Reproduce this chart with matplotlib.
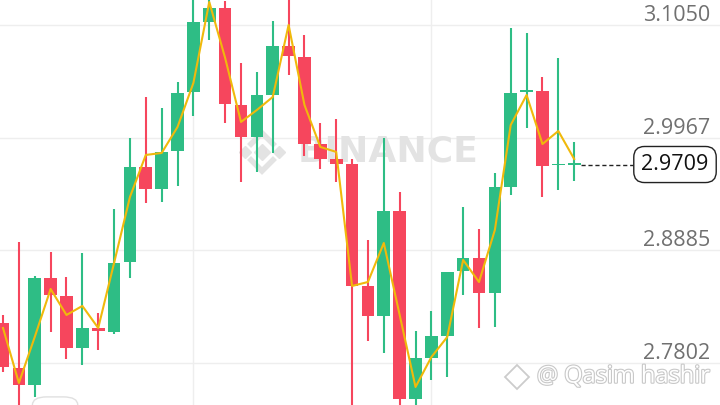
import matplotlib
matplotlib.use("Agg")
import matplotlib.pyplot as plt
import matplotlib.patheffects as pe
import matplotlib.transforms as mtransforms
from matplotlib.patches import FancyBboxPatch

# candle data (37 candles, oldest first)
opens = [2.8186, 2.7754, 2.7590, 2.8619, 2.8446, 2.7946, 2.8138, 2.8100, 2.8772, 2.9685,
         2.9474, 2.9839, 3.0406, 3.1079, 3.1213, 3.0281, 2.9974, 3.0377, 3.0848, 3.0742,
         2.9906, 2.9762, 2.9714, 2.8542, 2.8253, 2.9263, 2.7456, 2.7850, 2.8061, 2.8686,
         2.8811, 2.8475, 2.9493, 3.0406, 3.0416, 2.9700, 2.9705]
closes = [2.7763, 2.7590, 2.8619, 2.8455, 2.7946, 2.8138, 2.8109, 2.8763, 2.9685, 2.9474,
          2.9830, 3.0397, 3.1079, 3.1213, 3.0291, 2.9974, 3.0377, 3.0848, 3.0752, 2.9906,
          2.9762, 2.9714, 2.8542, 2.8253, 2.9263, 2.7456, 2.7850, 2.8061, 2.8676, 2.8811,
          2.8475, 2.9493, 3.0397, 3.0416, 2.9695, 2.9709, 2.9709]
highs = [2.8263, 2.8965, 2.8638, 2.8869, 2.8628, 2.8859, 2.8282, 2.9282, 2.9964, 3.0358,
         3.0252, 3.0502, 3.1338, 3.1386, 3.1281, 3.0685, 3.0598, 3.1088, 3.1319, 3.0954,
         3.0108, 3.0147, 2.9762, 2.8984, 2.9964, 2.9445, 2.8109, 2.8302, 2.8676, 2.9301,
         2.9090, 2.9628, 3.1021, 3.0973, 3.0550, 3.0733, 2.9926]
lows = [2.7715, 2.7331, 2.7475, 2.8100, 2.7840, 2.7783, 2.7927, 2.8081, 2.8619, 2.9339,
        2.9349, 2.9503, 3.0175, 3.0906, 3.0108, 2.9541, 2.9637, 2.9820, 3.0569, 2.9791,
        2.9666, 2.9541, 2.7331, 2.8013, 2.7898, 2.7331, 2.7350, 2.7638, 2.7667, 2.8455,
        2.8138, 2.8148, 2.9416, 3.0060, 2.9397, 2.9464, 2.9551]
# yellow moving average line
ma = [2.8138, 2.7610, 2.8052, 2.8513, 2.8263, 2.8350, 2.8138, 2.8763, 2.9397, 2.9801,
      2.9820, 3.0070, 3.0493, 3.1271, 3.0733, 3.0118, 3.0233, 3.0358, 3.1050, 3.0281,
      2.9878, 2.9830, 2.8542, 2.8580, 2.8955, 2.8263, 2.7571, 2.7859, 2.8052, 2.8792,
      2.8580, 2.9080, 3.0089, 3.0377, 2.9906, 3.0031, 2.9762]

price_levels = [3.1050, 2.9967, 2.8885, 2.7802]
price_labels = ["3.1050", "2.9967", "2.8885", "2.7802"]
last_price = 2.9709
last_label = "2.9709"

GREEN = "#2EBD85"
RED = "#F6465D"
YELLOW = "#F0B90B"
WM = "#E3E3E3"

fig = plt.figure(figsize=(7.2, 4.05), dpi=100)
ax = fig.add_axes([0, 0, 1, 1])
ax.set_xlim(-0.19, 45.19)
ax.set_ylim(2.7398, 3.1290)
ax.axis("off")

# grid
for p in price_levels:
    ax.axhline(p, color="#EEEEEE", lw=1, zorder=0)
for k in (12, 27):
    ax.axvline(k, color="#EEEEEE", lw=1, zorder=0)

# watermark
ax.text(0.539, 0.625, "BINANCE", transform=ax.transAxes, ha="center", va="center",
        fontsize=26, fontweight="bold", family="DejaVu Sans", color=WM, zorder=1)
cx, cy = 0.3639, 0.6247
px, py = 1 / 720, 1 / 405
ax.plot(cx, cy, marker="D", ms=8, color=WM, transform=ax.transAxes, zorder=1)
for dx in (-17, 17):
    ax.plot(cx + dx * px, cy, marker="D", ms=6, color=WM, transform=ax.transAxes, zorder=1)
for sgn in (1, -1):
    ax.plot([cx - 11 * px, cx, cx + 11 * px],
            [cy + sgn * 8 * py, cy + sgn * 19 * py, cy + sgn * 8 * py],
            color=WM, lw=4, solid_joinstyle="miter", transform=ax.transAxes, zorder=1)

# candles
xs = list(range(len(opens)))
for i in xs:
    o, c = opens[i], closes[i]
    col = GREEN if c >= o else RED
    ax.vlines(i, lows[i], highs[i], color=col, lw=1.5, zorder=2)
    h = max(abs(c - o), 0.0016)
    ax.bar(i, h, bottom=min(o, c), width=0.8, color=col, zorder=3)

ax.plot(xs, ma, color=YELLOW, lw=1.5, zorder=4)

# right price labels
trans = mtransforms.blended_transform_factory(ax.transAxes, ax.transData)
for p, lab in zip(price_levels, price_labels):
    ax.annotate(lab, (0.986, p), xycoords=trans, xytext=(0, 3), textcoords="offset points",
                ha="right", va="baseline", fontsize=15.5, family="Open Sans", color="#707070")

# last price line and tag
ax.plot([36.4, 39.7], [last_price, last_price], color="#222222", lw=1, ls=(0, (3, 2)), zorder=4)
ax.text(0.9375, last_price, last_label, transform=trans, ha="center", va="center",
        fontsize=15.5, family="Open Sans", color="#111111", zorder=6,
        bbox=dict(boxstyle="round,pad=0.35,rounding_size=0.5", fc="white", ec="#222222", lw=1))

# bottom-right signature
sig = ax.text(0.986, 0.07, "@ Qasim hashir", transform=ax.transAxes, ha="right", va="center",
              fontsize=17, family="Open Sans", color="white", zorder=6)
sig.set_path_effects([pe.withStroke(linewidth=1.6, foreground="#C8C8C8")])
ax.plot(0.718, 0.07, marker="D", ms=12, mfc="white", mec="#CCCCCC", mew=1.3,
        transform=ax.transAxes, zorder=6)

# partial button at bottom left
ax.add_patch(FancyBboxPatch((0.045, -0.05), 0.063, 0.07, boxstyle="round,pad=0,rounding_size=0.02",
                            transform=ax.transAxes, fc="white", ec="#E0E0E0", lw=1, zorder=5))

fig.savefig("out.png", dpi=100)
